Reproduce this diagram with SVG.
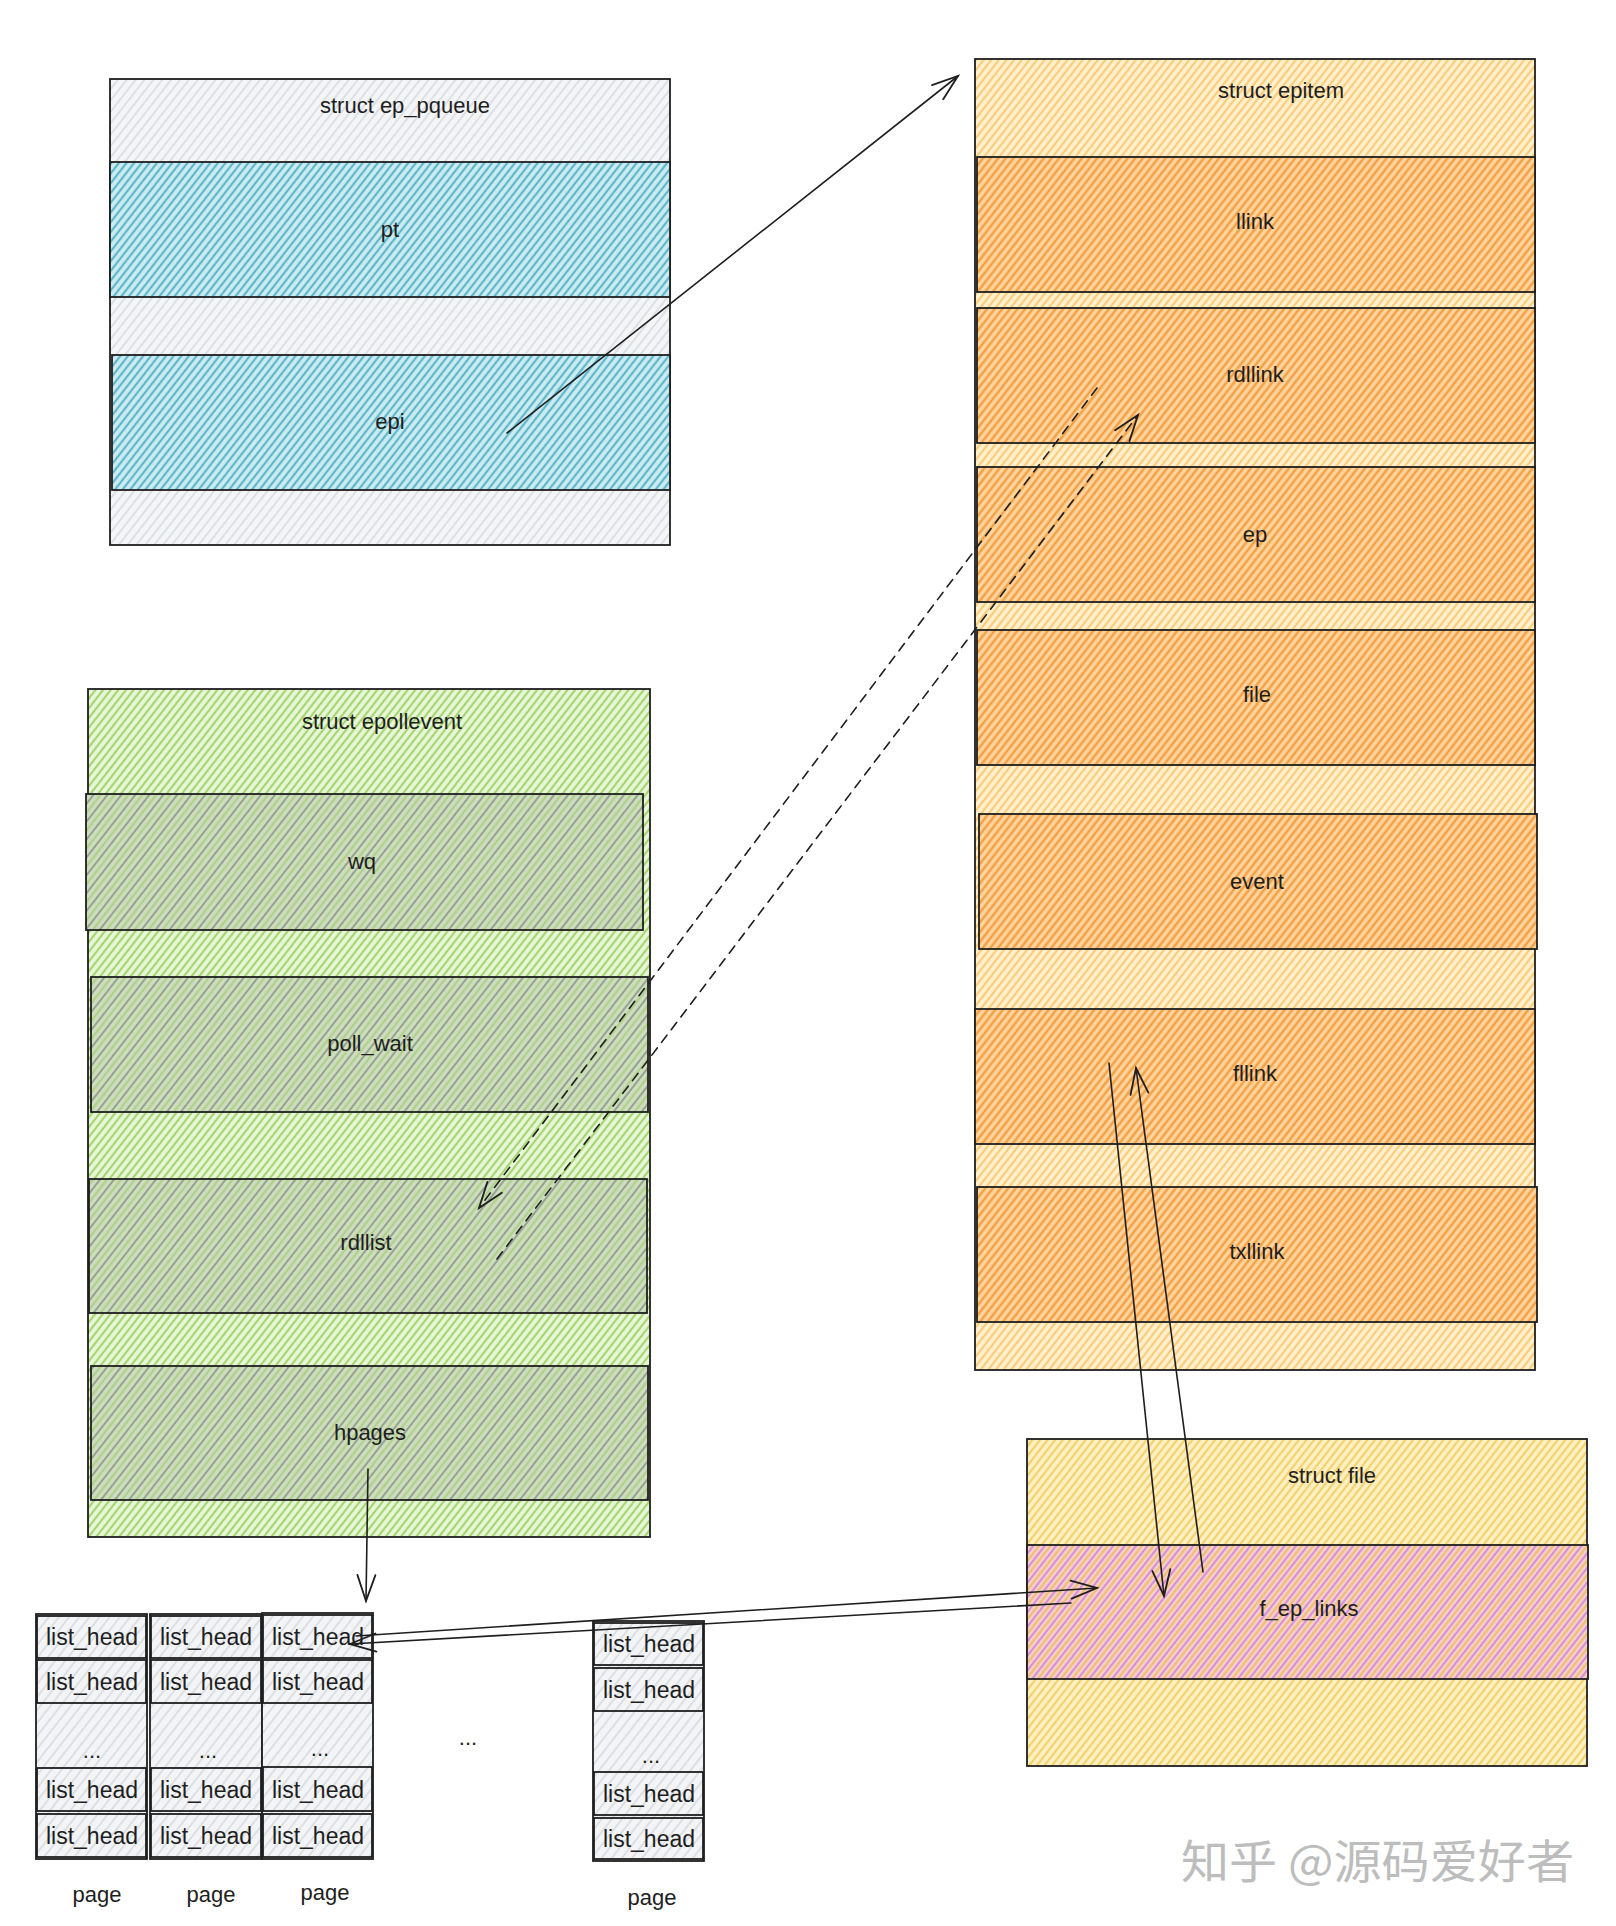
<svg xmlns="http://www.w3.org/2000/svg" width="1616" height="1926" viewBox="0 0 1616 1926">
<style>
  .box { stroke: #1e1e1e; stroke-width: 1.8; }
  .lbl { font-family: "Liberation Sans", "DejaVu Sans", sans-serif; font-size: 22px; fill: #1e1e1e; text-anchor: middle; }
  .lh { font-family: "Liberation Sans", "DejaVu Sans", sans-serif; font-size: 23px; fill: #1e1e1e; text-anchor: middle; }
  .conn { stroke: #1e1e1e; stroke-width: 1.6; fill: none; stroke-linecap: round; }
  .dash { stroke-dasharray: 9 7; }
  .wm { font-family: "Noto Sans CJK SC", sans-serif; font-size: 46px; fill: #bdbdbd; }
</style>
<defs>
  <pattern id="hGray" patternUnits="userSpaceOnUse" width="7" height="7" patternTransform="rotate(38)">
    <rect width="7" height="7" fill="#f4f5f7"/><line x1="2" y1="0" x2="2" y2="7" stroke="#d3d7dc" stroke-width="1.4"/>
  </pattern>
  <pattern id="hBlue" patternUnits="userSpaceOnUse" width="6" height="6" patternTransform="rotate(38)">
    <rect width="6" height="6" fill="#cdebf1"/><line x1="2" y1="0" x2="2" y2="6" stroke="#5db8cc" stroke-width="2.2"/>
  </pattern>
  <pattern id="hOrangeL" patternUnits="userSpaceOnUse" width="6" height="6" patternTransform="rotate(38)">
    <rect width="6" height="6" fill="#fff0cf"/><line x1="2" y1="0" x2="2" y2="6" stroke="#fbcd78" stroke-width="2.2"/>
  </pattern>
  <pattern id="hOrange" patternUnits="userSpaceOnUse" width="6" height="6" patternTransform="rotate(38)">
    <rect width="6" height="6" fill="#fdd6a2"/><line x1="2" y1="0" x2="2" y2="6" stroke="#f5a143" stroke-width="2.6"/>
  </pattern>
  <pattern id="hGreenL" patternUnits="userSpaceOnUse" width="6" height="6" patternTransform="rotate(38)">
    <rect width="6" height="6" fill="#eaf6dc"/><line x1="2" y1="0" x2="2" y2="6" stroke="#a5d76e" stroke-width="2.2"/>
  </pattern>
  <pattern id="hGreen" patternUnits="userSpaceOnUse" width="11" height="11" patternTransform="rotate(38)">
    <rect width="11" height="11" fill="#cfdcc1"/>
    <line x1="2" y1="0" x2="2" y2="11" stroke="#93a58a" stroke-width="2"/>
    <line x1="7.5" y1="0" x2="7.5" y2="11" stroke="#a9d07f" stroke-width="2"/>
  </pattern>
  <pattern id="hYellow" patternUnits="userSpaceOnUse" width="6" height="6" patternTransform="rotate(38)">
    <rect width="6" height="6" fill="#fdf0c6"/><line x1="2" y1="0" x2="2" y2="6" stroke="#f5d16a" stroke-width="2.2"/>
  </pattern>
  <pattern id="hPink" patternUnits="userSpaceOnUse" width="9" height="9" patternTransform="rotate(38)">
    <rect width="9" height="9" fill="#f4d3cf"/>
    <line x1="2" y1="0" x2="2" y2="9" stroke="#d98fd2" stroke-width="2.2"/>
    <line x1="6.5" y1="0" x2="6.5" y2="9" stroke="#f3b862" stroke-width="2"/>
  </pattern>
  <pattern id="hPage" patternUnits="userSpaceOnUse" width="8" height="8" patternTransform="rotate(38)">
    <rect width="8" height="8" fill="#f3f4f6"/><line x1="2" y1="0" x2="2" y2="8" stroke="#d0d4d9" stroke-width="1.3"/>
  </pattern>
  <marker id="ah" markerUnits="userSpaceOnUse" markerWidth="34" markerHeight="30" viewBox="-30 -15 34 30" refX="0" refY="0" orient="auto">
    <path d="M-26,-9 L0,0 L-26,9" fill="none" stroke="#1e1e1e" stroke-width="1.8" stroke-linecap="round"/>
  </marker>
</defs>
<rect width="1616" height="1926" fill="#ffffff"/>

<!-- struct ep_pqueue -->
<g id="ep_pqueue">
  <rect class="box" x="110" y="79" width="560" height="466" fill="url(#hGray)"/>
  <text class="lbl" x="405" y="113">struct ep_pqueue</text>
</g>
<g id="pt">
  <rect class="box" x="110" y="162" width="560" height="135" fill="url(#hBlue)"/>
  <text class="lbl" x="390" y="237">pt</text>
</g>
<g id="epi">
  <rect class="box" x="112" y="355" width="558" height="135" fill="url(#hBlue)"/>
  <text class="lbl" x="390" y="429">epi</text>
</g>

<!-- struct epitem -->
<g id="epitem">
  <rect class="box" x="975" y="59" width="560" height="1311" fill="url(#hOrangeL)"/>
  <text class="lbl" x="1281" y="98">struct epitem</text>
</g>
<g id="llink">
  <rect class="box" x="977" y="157" width="558" height="135" fill="url(#hOrange)"/>
  <text class="lbl" x="1255" y="229">llink</text>
</g>
<g id="rdllink">
  <rect class="box" x="977" y="308" width="558" height="135" fill="url(#hOrange)"/>
  <text class="lbl" x="1255" y="382">rdllink</text>
</g>
<g id="ep">
  <rect class="box" x="977" y="467" width="558" height="135" fill="url(#hOrange)"/>
  <text class="lbl" x="1255" y="542">ep</text>
</g>
<g id="file">
  <rect class="box" x="977" y="630" width="558" height="135" fill="url(#hOrange)"/>
  <text class="lbl" x="1257" y="702">file</text>
</g>
<g id="event">
  <rect class="box" x="979" y="814" width="558" height="135" fill="url(#hOrange)"/>
  <text class="lbl" x="1257" y="889">event</text>
</g>
<g id="fllink">
  <rect class="box" x="975" y="1009" width="560" height="135" fill="url(#hOrange)"/>
  <text class="lbl" x="1255" y="1081">fllink</text>
</g>
<g id="txllink">
  <rect class="box" x="977" y="1187" width="560" height="135" fill="url(#hOrange)"/>
  <text class="lbl" x="1257" y="1259">txllink</text>
</g>

<!-- struct epollevent -->
<g id="epollevent">
  <rect class="box" x="88" y="689" width="562" height="848" fill="url(#hGreenL)"/>
  <text class="lbl" x="382" y="729">struct epollevent</text>
</g>
<g id="wq">
  <rect class="box" x="86" y="794" width="557" height="136" fill="url(#hGreen)"/>
  <text class="lbl" x="362" y="869">wq</text>
</g>
<g id="poll_wait">
  <rect class="box" x="91" y="977" width="557" height="135" fill="url(#hGreen)"/>
  <text class="lbl" x="370" y="1051">poll_wait</text>
</g>
<g id="rdllist">
  <rect class="box" x="89" y="1179" width="558" height="134" fill="url(#hGreen)"/>
  <text class="lbl" x="366" y="1250">rdllist</text>
</g>
<g id="hpages">
  <rect class="box" x="91" y="1366" width="557" height="134" fill="url(#hGreen)"/>
  <text class="lbl" x="370" y="1440">hpages</text>
</g>

<!-- struct file -->
<g id="struct_file">
  <rect class="box" x="1027" y="1439" width="560" height="327" fill="url(#hYellow)"/>
  <text class="lbl" x="1332" y="1483">struct file</text>
</g>
<g id="f_ep_links">
  <rect class="box" x="1027" y="1545" width="561" height="134" fill="url(#hPink)"/>
  <text class="lbl" x="1309" y="1616">f_ep_links</text>
</g>

<!-- pages -->
<g id="page1">
  <rect class="box" x="36" y="1614" width="111" height="245" fill="url(#hPage)"/>
  <rect class="box" x="37" y="1616" width="109" height="42" fill="url(#hPage)"/>
  <rect class="box" x="37" y="1660" width="109" height="43" fill="url(#hPage)"/>
  <rect class="box" x="37" y="1768" width="109" height="43" fill="url(#hPage)"/>
  <rect class="box" x="37" y="1814" width="109" height="43" fill="url(#hPage)"/>
  <text class="lh" x="92" y="1645">list_head</text>
  <text class="lh" x="92" y="1690">list_head</text>
  <text class="lbl" x="92" y="1758">...</text>
  <text class="lh" x="92" y="1798">list_head</text>
  <text class="lh" x="92" y="1844">list_head</text>
  <text class="lbl" x="97" y="1902">page</text>
</g>
<g id="page2">
  <rect class="box" x="150" y="1614" width="112" height="245" fill="url(#hPage)"/>
  <rect class="box" x="151" y="1616" width="110" height="42" fill="url(#hPage)"/>
  <rect class="box" x="151" y="1660" width="110" height="43" fill="url(#hPage)"/>
  <rect class="box" x="151" y="1768" width="110" height="43" fill="url(#hPage)"/>
  <rect class="box" x="151" y="1814" width="110" height="43" fill="url(#hPage)"/>
  <text class="lh" x="206" y="1645">list_head</text>
  <text class="lh" x="206" y="1690">list_head</text>
  <text class="lbl" x="208" y="1758">...</text>
  <text class="lh" x="206" y="1798">list_head</text>
  <text class="lh" x="206" y="1844">list_head</text>
  <text class="lbl" x="211" y="1902">page</text>
</g>
<g id="page3">
  <rect class="box" x="262" y="1613" width="111" height="246" fill="url(#hPage)"/>
  <rect class="box" x="263" y="1615" width="109" height="43" fill="url(#hPage)"/>
  <rect class="box" x="263" y="1660" width="109" height="43" fill="url(#hPage)"/>
  <rect class="box" x="263" y="1767" width="109" height="44" fill="url(#hPage)"/>
  <rect class="box" x="263" y="1814" width="109" height="43" fill="url(#hPage)"/>
  <text class="lh" x="318" y="1645">list_head</text>
  <text class="lh" x="318" y="1690">list_head</text>
  <text class="lbl" x="320" y="1756">...</text>
  <text class="lh" x="318" y="1798">list_head</text>
  <text class="lh" x="318" y="1844">list_head</text>
  <text class="lbl" x="325" y="1900">page</text>
</g>
<g id="page4">
  <rect class="box" x="593" y="1621" width="111" height="240" fill="url(#hPage)"/>
  <rect class="box" x="594" y="1623" width="109" height="42" fill="url(#hPage)"/>
  <rect class="box" x="594" y="1668" width="109" height="43" fill="url(#hPage)"/>
  <rect class="box" x="594" y="1772" width="109" height="43" fill="url(#hPage)"/>
  <rect class="box" x="594" y="1818" width="109" height="41" fill="url(#hPage)"/>
  <text class="lh" x="649" y="1652">list_head</text>
  <text class="lh" x="649" y="1698">list_head</text>
  <text class="lbl" x="651" y="1763">...</text>
  <text class="lh" x="649" y="1802">list_head</text>
  <text class="lh" x="649" y="1847">list_head</text>
  <text class="lbl" x="652" y="1905">page</text>
</g>
<text class="lbl" x="468" y="1745">...</text>

<!-- connectors -->
<g id="connectors">
  <line class="conn" x1="507" y1="433" x2="958" y2="76" marker-end="url(#ah)"/>
  <line class="conn dash" x1="497" y1="1259" x2="1138" y2="415" marker-end="url(#ah)"/>
  <line class="conn dash" x1="1097" y1="388" x2="479" y2="1208" marker-end="url(#ah)"/>
  <line class="conn" x1="368" y1="1469" x2="366" y2="1601" marker-end="url(#ah)"/>
  <line class="conn" x1="356" y1="1636" x2="1097" y2="1588" marker-end="url(#ah)"/>
  <line class="conn" x1="1071" y1="1603" x2="350" y2="1644" marker-end="url(#ah)"/>
  <line class="conn" x1="1109" y1="1063" x2="1164" y2="1596" marker-end="url(#ah)"/>
  <line class="conn" x1="1203" y1="1572" x2="1136" y2="1068" marker-end="url(#ah)"/>
</g>

<text class="wm" x="1181" y="1878" textLength="393" lengthAdjust="spacingAndGlyphs">知乎 @源码爱好者</text>
</svg>
